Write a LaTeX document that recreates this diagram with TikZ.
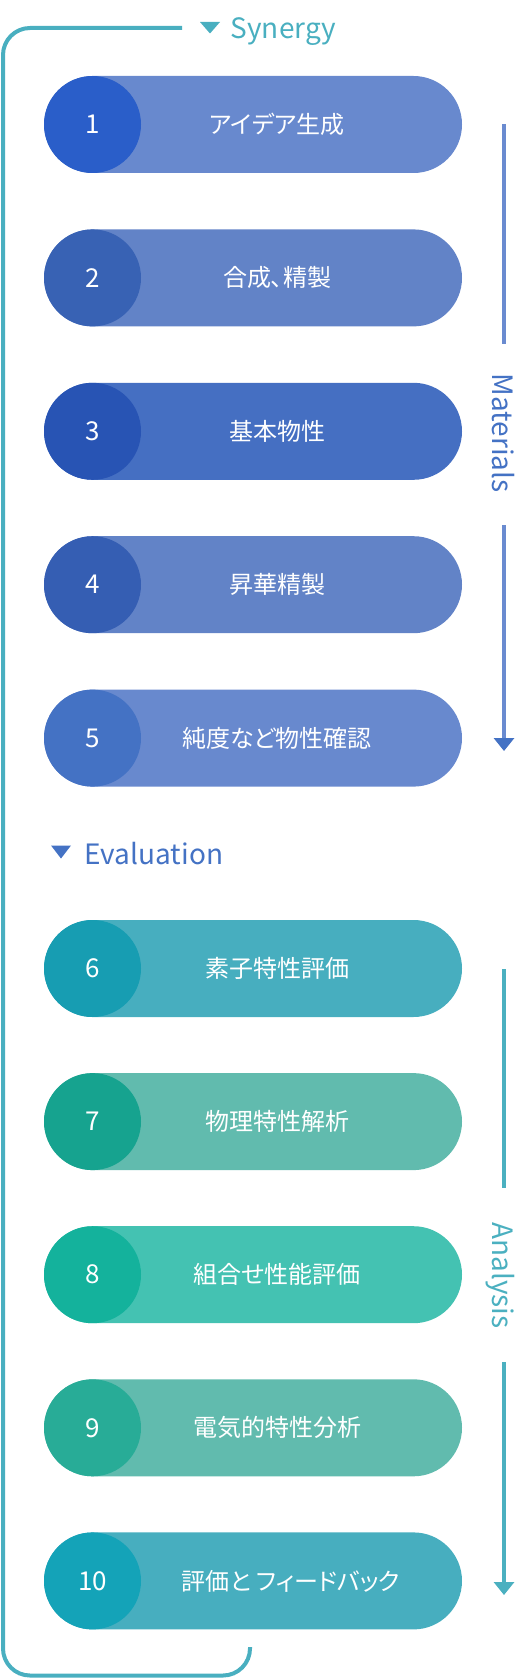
\documentclass[tikz,border=0pt]{standalone}
\usepackage{fontspec}
\setmainfont{Noto Sans CJK JP}
\newfontfamily\jpfont[RawFeature=+palt]{Noto Sans CJK JP}
\usetikzlibrary{shapes.misc,arrows.meta}
\definecolor{synteal}{HTML}{49AFC0}
\definecolor{matline}{HTML}{6A8BD0}
\definecolor{matblue}{HTML}{4472C4}
\definecolor{analine}{HTML}{4BB0C0}
\definecolor{bodyA}{HTML}{6889CE}
\definecolor{circA}{HTML}{2A5EC9}
\definecolor{bodyB}{HTML}{6283C7}
\definecolor{circB}{HTML}{3862B4}
\definecolor{bodyC}{HTML}{456FC2}
\definecolor{circC}{HTML}{2854B4}
\definecolor{circD}{HTML}{355EB3}
\definecolor{circE}{HTML}{4472C4}
\definecolor{bodyF}{HTML}{47AEBF}
\definecolor{circF}{HTML}{179DB2}
\definecolor{bodyG}{HTML}{61BBAE}
\definecolor{circG}{HTML}{16A38F}
\definecolor{bodyH}{HTML}{44C2B2}
\definecolor{circH}{HTML}{14B29C}
\definecolor{circI}{HTML}{28AC97}
\definecolor{circJ}{HTML}{14A3B8}
\begin{document}
\begin{tikzpicture}[x=1pt,y=-1pt,
  pillbody/.style={rounded rectangle, minimum width=418pt, minimum height=97pt, inner sep=0pt, draw=none},
  numcircle/.style={circle, minimum size=97pt, inner sep=0pt, draw=none, text=white, font=\fontsize{26}{30}\selectfont},
  pilltext/.style={text=white, inner sep=0pt, font=\jpfont\fontsize{24}{28}\selectfont},
  heading/.style={inner sep=0pt, font=\fontsize{28}{32}\selectfont},
  vline/.style={line width=4pt}
]
\useasboundingbox (0,0) rectangle (518,1680);

% synergy bracket
\coordinate (s0) at (182,28);
\coordinate (s1) at (3,28);
\coordinate (s2) at (3,1675.5);
\coordinate (s3) at (250,1675.5);
\coordinate (s4) at (250,1647);
\draw[synteal, line width=4pt, rounded corners=27pt] (s0) -- (s1) -- (s2) -- (s3) -- (s4);
\fill[synteal] (200,22) -- (220,22) -- (210,33.5) -- cycle;
\node[heading, text=synteal, anchor=base west] (syn) at (230.5,38.3) {Synergy};

% evaluation heading
\fill[matblue] (51,845.5) -- (71,845.5) -- (61,858.5) -- cycle;
\node[heading, text=matblue, anchor=base west] (eva) at (84.5,864) {Evaluation};

% pills
\foreach \i/\y/\bc/\cc/\lx/\t in {
  1/124.5/bodyA/circA/277/アイデア生成,
  2/277.9/bodyB/circB/277/合成、精製,
  3/431.3/bodyC/circC/277/基本物性,
  4/584.7/bodyB/circD/277/昇華精製,
  5/738.1/bodyA/circE/277/純度など物性確認,
  6/968.5/bodyF/circF/277/素子特性評価,
  7/1121.6/bodyG/circG/277/物理特性解析,
  8/1274.7/bodyH/circH/277/組合せ性能評価,
  9/1427.8/bodyG/circI/277/電気的特性分析,
  10/1580.9/bodyF/circJ/291/評価と フィードバック}{
  \node[pillbody, fill=\bc] (b\i) at (253,\y) {};
  \node[numcircle, fill=\cc] (c\i) at (92.5,\y) {\i};
  \node[pilltext] (l\i) at (\lx,\y) {\t};
}

% materials arrow
\coordinate (m0) at (504,124.5);
\coordinate (m1) at (504,344);
\coordinate (m2) at (504,525);
\coordinate (m3) at (504,751);
\draw[vline, matline] (m0) -- (m1);
\draw[vline, matline, -{Triangle[width=20pt,length=13pt,color=matblue]}] (m2) -- (m3);
\node[heading, text=matblue, rotate=-90, anchor=base] (mat) at (492,433) {Materials};

% analysis arrow
\coordinate (a0) at (504,969);
\coordinate (a1) at (504,1188);
\coordinate (a2) at (504,1362);
\coordinate (a3) at (504,1595);
\draw[vline, analine] (a0) -- (a1);
\draw[vline, analine, -{Triangle[width=20pt,length=13pt]}] (a2) -- (a3);
\node[heading, text=analine, rotate=-90, anchor=base] (ana) at (492,1275.5) {Analysis};
\end{tikzpicture}
\end{document}
